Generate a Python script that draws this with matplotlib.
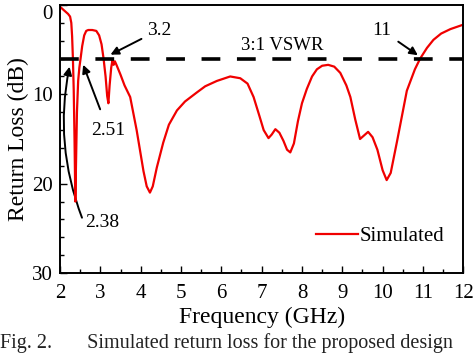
import matplotlib
matplotlib.use('Agg')
import matplotlib.pyplot as plt
from matplotlib.patches import FancyArrowPatch
from matplotlib.ticker import MultipleLocator

# values
freq = [2.0, 2.05, 2.1, 2.15, 2.2, 2.25, 2.28, 2.3, 2.32, 2.34, 2.36, 2.38, 2.40,
        2.42, 2.45, 2.48, 2.51, 2.55, 2.6, 2.65, 2.7, 2.8, 2.9, 2.97, 3.03, 3.08,
        3.13, 3.17, 3.2, 3.23, 3.27, 3.3, 3.33, 3.36, 3.4, 3.5, 3.6, 3.74, 3.9,
        4.07, 4.15, 4.23, 4.3, 4.4, 4.56, 4.7, 4.9, 5.1, 5.39, 5.6, 5.89, 6.22,
        6.47, 6.65, 6.8, 6.95, 7.05, 7.17, 7.25, 7.34, 7.44, 7.54, 7.63, 7.71,
        7.8, 7.9, 8.0, 8.12, 8.25, 8.37, 8.5, 8.65, 8.8, 8.95, 9.1, 9.2, 9.32,
        9.44, 9.54, 9.64, 9.75, 9.87, 10.0, 10.1, 10.2, 10.36, 10.6, 10.8, 10.93,
        11.1, 11.26, 11.45, 11.68, 12.0]
return_loss = [0.2, 0.4, 0.6, 0.8, 1.0, 1.3, 2.0, 3.5, 6.0, 9.5, 15.0, 22.0, 17.0,
               12.0, 8.5, 7.0, 6.0, 4.6, 3.4, 2.9, 2.8, 2.8, 2.9, 3.4, 4.4, 6.0,
               8.0, 10.2, 11.0, 9.0, 7.0, 6.2, 6.7, 6.3, 6.7, 7.8, 9.0, 10.3, 14.0,
               18.6, 20.3, 21.0, 20.3, 18.2, 15.4, 13.4, 11.8, 10.8, 9.8, 9.1, 8.5,
               8.0, 8.2, 8.8, 10.3, 12.5, 14.0, 14.9, 14.5, 13.9, 14.3, 15.2, 16.2,
               16.5, 15.5, 13.0, 11.0, 9.4, 8.0, 7.2, 6.8, 6.7, 6.9, 7.6, 9.0, 10.3,
               12.8, 15.0, 14.6, 14.2, 14.8, 16.2, 18.5, 19.6, 18.8, 15.2, 9.6, 7.2,
               6.0, 4.8, 3.9, 3.2, 2.7, 2.2]
vswr_level = 6.0

plt.rcParams['font.family'] = ['Liberation Serif', 'DejaVu Serif']

fig = plt.figure(figsize=(4.74, 3.54), dpi=100)
ax = fig.add_axes([0.1266, 0.2288, 0.8508, 0.7571])

ax.plot(freq, return_loss, color='#f00000', lw=1.6, label='Simulated')
ax.axhline(vswr_level, color='black', lw=2.6, dashes=(5.2, 4.6))

ax.set_xlim(2, 12)
ax.set_ylim(30, 0)
ax.set_yticks([0, 10, 20, 30])
ax.xaxis.set_major_locator(MultipleLocator(1))
ax.xaxis.set_minor_locator(MultipleLocator(0.5))
ax.yaxis.set_minor_locator(MultipleLocator(2))
ax.tick_params(which='both', direction='in', labelsize=15, width=1.0)
ax.tick_params(which='major', length=5)
ax.tick_params(axis='x', which='major', pad=8)
ax.tick_params(axis='y', which='major', pad=5)
ax.tick_params(which='minor', length=3)
for s in ax.spines.values():
    s.set_linewidth(1.4)
# keep the top "0" inside the picture
ax.get_yticklabels()[0].set_va('top')

ax.set_xlabel('Frequency (GHz)', fontsize=17, labelpad=3)
ax.set_ylabel('Return Loss (dB)', fontsize=17, labelpad=2)

ax.text(7.5, 4.5, '3:1 VSWR', fontsize=13.5, ha='center', va='center')

arrow_kw = dict(arrowstyle='-|>', mutation_scale=12, color='black', lw=1.4)
ax.annotate('3.2', xy=(3.19, 5.7), xytext=(4.15, 2.8), fontsize=14,
            ha='left', va='center', arrowprops=arrow_kw)
ax.annotate('2.51', xy=(2.55, 6.4), xytext=(3.2, 14.1), fontsize=14,
            ha='center', va='center', arrowprops=dict(arrow_kw, shrinkA=8))
ax.annotate('11', xy=(10.93, 5.8), xytext=(9.97, 2.8), fontsize=14,
            ha='center', va='center', arrowprops=dict(arrow_kw, shrinkA=4))
ax.text(3.04, 24.3, '2.38', fontsize=14, ha='center', va='center')
ax.add_patch(FancyArrowPatch((2.57, 24.1), (2.25, 6.6),
                             connectionstyle='arc3,rad=-0.15', **arrow_kw))

ax.legend(loc='lower right', bbox_to_anchor=(1.0, 0.03), frameon=False,
          fontsize=15, handlelength=2.0, handletextpad=0.1)

fig.text(0.0, 0.004, 'Fig. 2.       Simulated return loss for the proposed design',
         fontsize=14.5, ha='left', va='bottom', color='#222222')

fig.savefig('out.png', dpi=100)
